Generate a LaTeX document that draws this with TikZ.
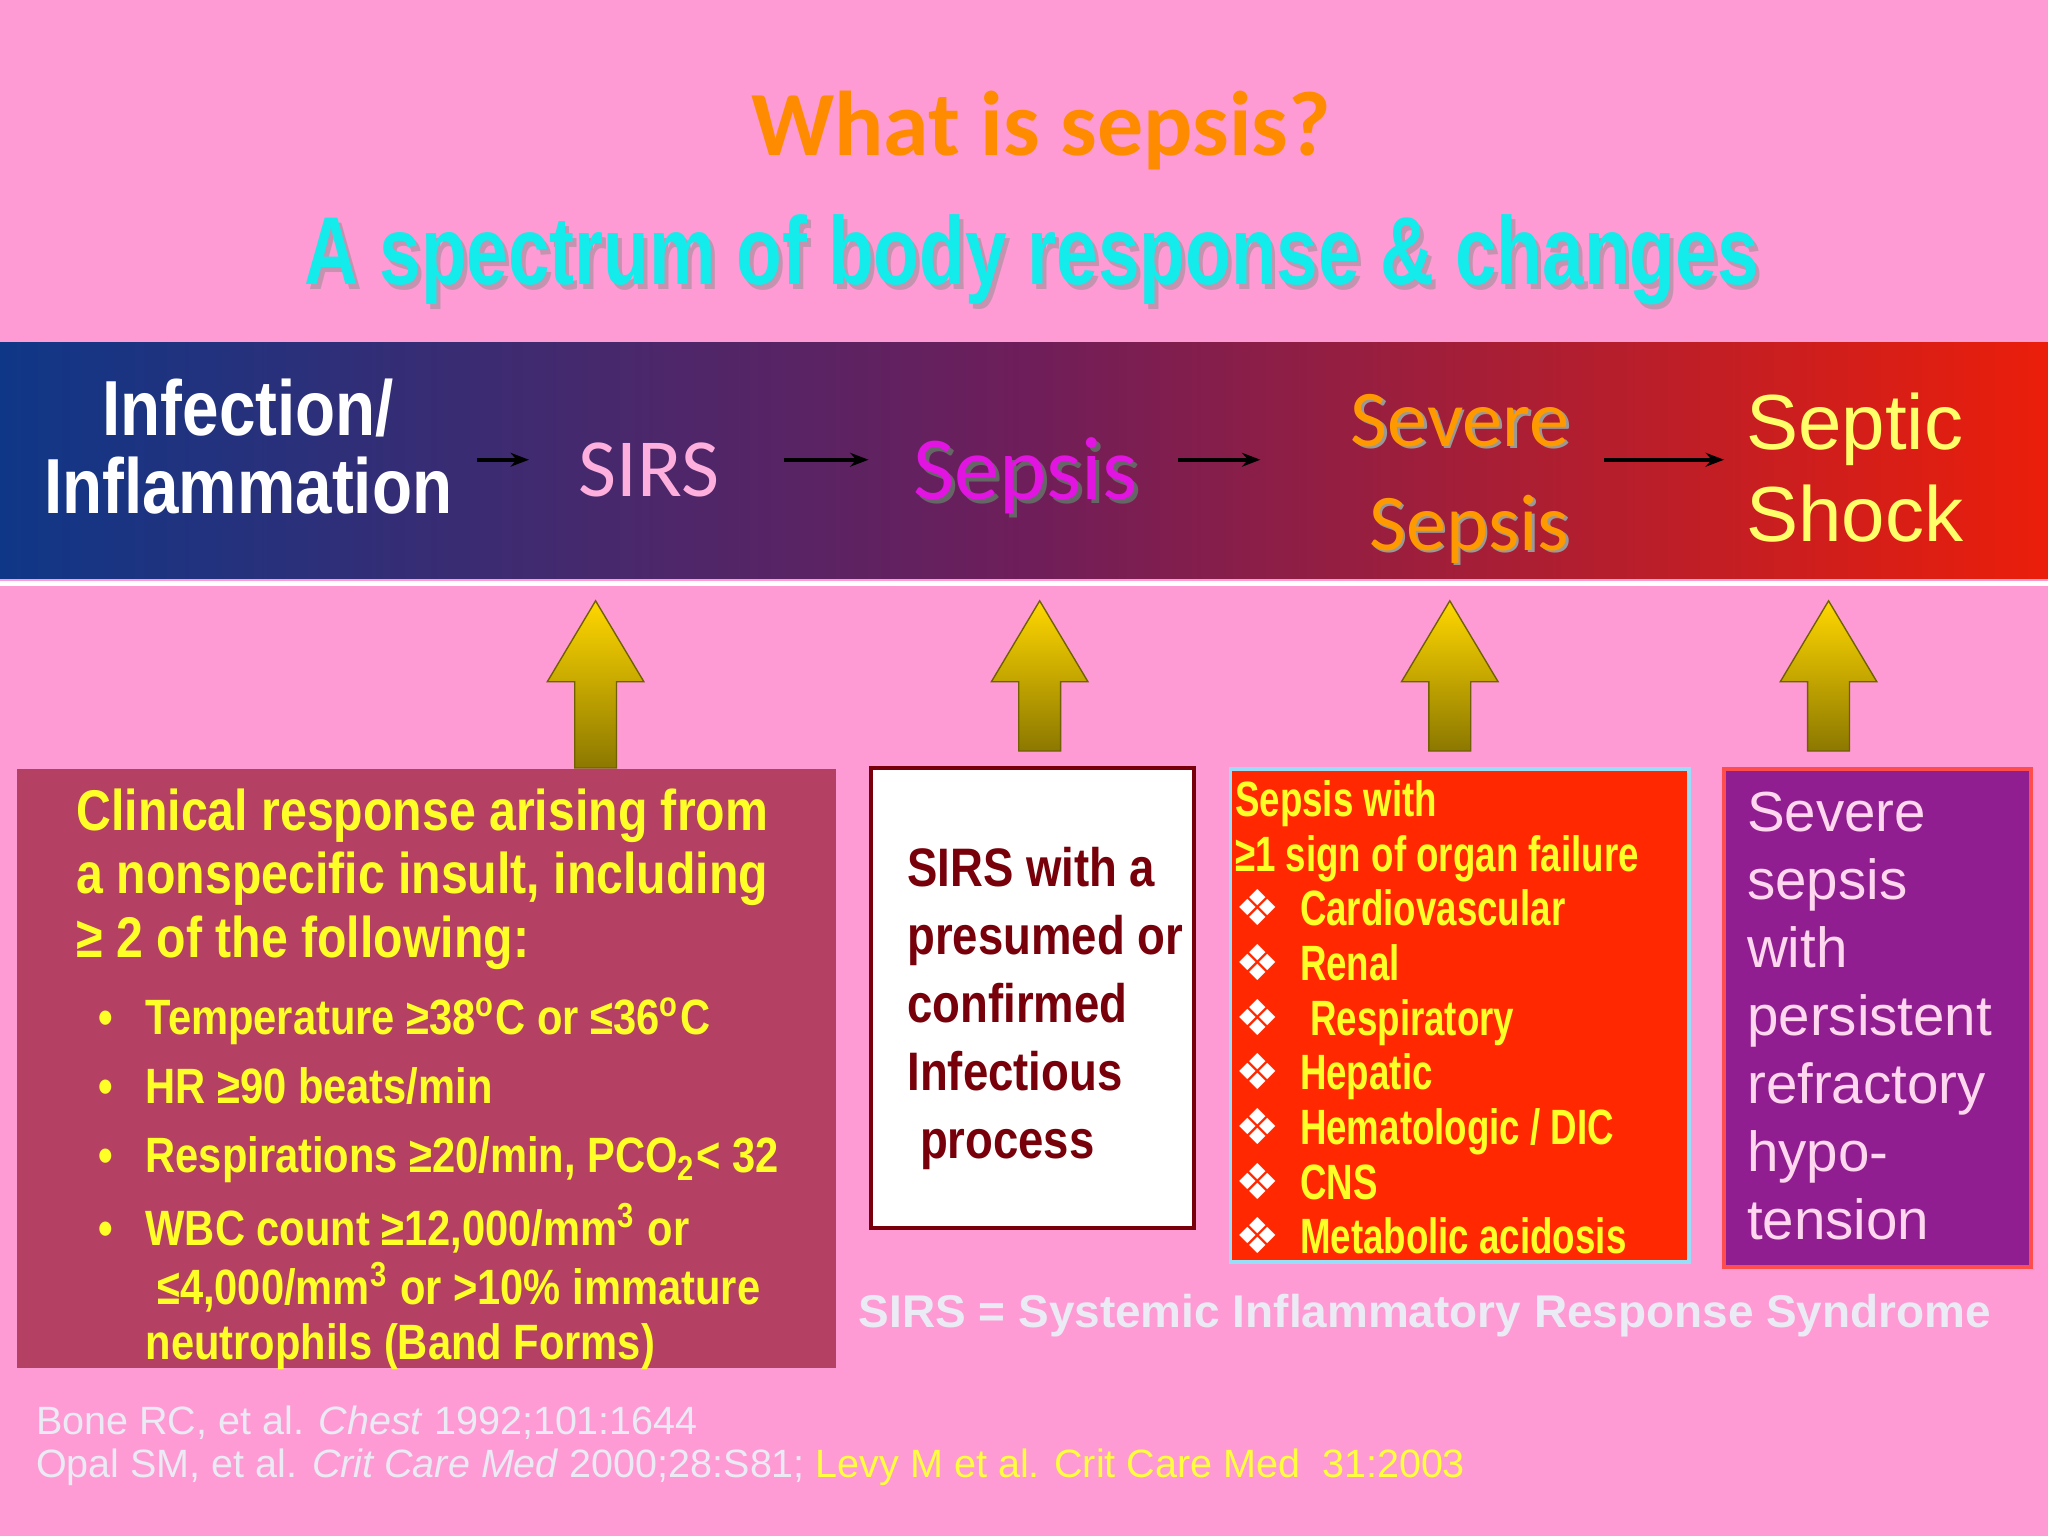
\documentclass[tikz,border=0pt]{standalone}
\usepackage{fontspec}
\setmainfont{Liberation Sans}
\newfontfamily\cond{Liberation Sans}[FakeStretch=0.74]
\newfontfamily\condwide{Liberation Sans}[FakeStretch=0.775]
\newfontfamily\condbox{Liberation Sans}[FakeStretch=0.84]
\newfontfamily\cali{Carlito}
\newfontfamily\dejavu{DejaVu Sans}
\usetikzlibrary{arrows.meta}
\usetikzlibrary{calc}
\definecolor{bgpink}{RGB}{255,155,212}
\definecolor{titleorange}{RGB}{255,140,0}
\definecolor{subcyan}{RGB}{20,235,235}
\definecolor{banddark}{RGB}{15,55,135}
\definecolor{bandmid}{RGB}{110,30,90}
\definecolor{bandred}{RGB}{235,30,10}
\definecolor{boxrose}{RGB}{180,65,100}
\definecolor{boxred}{RGB}{255,40,0}
\definecolor{boxpurple}{RGB}{145,30,145}
\definecolor{txtyellow}{RGB}{255,255,40}
\definecolor{txtdarkred}{RGB}{120,0,10}
\definecolor{sepsismag}{RGB}{225,20,225}
\definecolor{arrowtop}{RGB}{255,215,0}
\definecolor{arrowbot}{RGB}{140,120,0}
\definecolor{footgray}{RGB}{235,235,245}
\newcommand{\dmd}{{\dejavu\color{white}\char"2756}}

\begin{document}
\begin{tikzpicture}[x=0.01cm,y=-0.01cm,
        stage/.style={align=center,inner sep=0pt},
        boxtext/.style={anchor=north west,align=left,inner sep=0pt},
        box/.style={draw,line width=0.8pt},
        uparrow/.style={top color=arrowtop,bottom color=arrowbot,draw=arrowbot!80!black,line width=0.3pt},
        steparrow/.style={-{Stealth[length=4pt]},line width=0.8pt,black}]
    \fill[bgpink] (0,0) rectangle (1568,1176);
    \useasboundingbox (0,0) rectangle (1568,1176);

    % titles
    \node[text=titleorange,font=\cali\bfseries\fontsize{20}{24}\selectfont] (title) at (797,100) {What is sepsis?};
    \node[text=black!45,opacity=0.5,font=\condwide\bfseries\fontsize{21}{25}\selectfont] at (793,203) {A spectrum of body response \& changes};
    \node[text=subcyan,font=\condwide\bfseries\fontsize{21}{25}\selectfont] (subtitle) at (790,199) {A spectrum of body response \& changes};

    % band
    \shade[left color=banddark,right color=bandred,middle color=bandmid] (0,262) rectangle (1568,443);
    \fill[white] (0,445) rectangle (1568,449);

    \node[stage,text=white,font=\condbox\bfseries\fontsize{17}{17}\selectfont] (infection) at (190,342) {Infection/\\Inflammation};
    \node[stage,text=bgpink!80!white,font=\cali\fontsize{18}{22}\selectfont] (sirs) at (497,360) {SIRS};
    \node[stage,text=black!60,font=\cali\fontsize{19.6}{25}\selectfont] at (788,367) {Sepsis};
    \node[stage,text=sepsismag,font=\cali\fontsize{19.6}{25}\selectfont] (sepsis) at (785,364) {Sepsis};
    \node[stage,text=black!40,font=\cali\fontsize{17.5}{20}\selectfont] at (1120,324) {Severe};
    \node[stage,text=orange!80!yellow,font=\cali\fontsize{17.5}{20}\selectfont] (severe) at (1118,322) {Severe};
    \node[stage,text=black!40,font=\cali\fontsize{17.5}{20}\selectfont] at (1127,407) {Sepsis};
    \node[stage,text=orange!80!yellow,font=\cali\fontsize{17.5}{20}\selectfont] (severe2) at (1125,405) {Sepsis};
    \node[stage,text=txtyellow!70!white,font=\fontsize{17}{20}\selectfont] (shock) at (1420,358) {Septic\\Shock};

    \coordinate (a1) at (365,352); \coordinate (b1) at (405,352);
    \coordinate (a2) at (600,352); \coordinate (b2) at (665,352);
    \coordinate (a3) at (902,352); \coordinate (b3) at (965,352);
    \coordinate (a4) at (1228,352); \coordinate (b4) at (1320,352);
    \foreach \i in {1,...,4}
        \draw[steparrow] (a\i) -- (b\i);

    % up arrows
    \foreach \x/\b in {456/588,796/575,1110/575,1400/575}
        \path[uparrow] (\x-16,\b) -- (\x-16,522) -- (\x-37,522) -- (\x,460) -- (\x+37,522) -- (\x+16,522) -- (\x+16,\b) -- cycle;

    % boxes
    \fill[boxrose] (13,589) rectangle (640,1047);
    \node[boxtext,text=txtyellow,font=\condbox\bfseries\fontsize{12.5}{13.9}\selectfont] (clinical) at (58,603)
        {Clinical response arising from\\a nonspecific insult, including\\≥ 2 of the following:};
    \node[boxtext,text=txtyellow,font=\condbox\bfseries\fontsize{10.8}{12}\selectfont] (criteria) at (75,762)
        {\begin{tabular}{@{}l@{\hspace{7pt}}l@{}}
        • & Temperature ≥38\textsuperscript{o}C or ≤36\textsuperscript{o}C\\[3pt]
        • & HR ≥90 beats/min\\[3pt]
        • & Respirations ≥20/min, PCO\textsubscript{2}< 32\\[3pt]
        • & WBC count ≥12,000/mm\textsuperscript{3} or\\
          & \ ≤4,000/mm\textsuperscript{3} or >10\% immature\\
          & neutrophils (Band Forms)
        \end{tabular}};

    \draw[box,draw=txtdarkred,fill=white] (667,588) rectangle (914,940);
    \node[boxtext,text=txtdarkred,font=\condbox\bfseries\fontsize{11.8}{14.8}\selectfont] (presumed) at (694,648)
        {SIRS with a\\presumed or\\confirmed\\Infectious\\\ process};

    \draw[box,draw=cyan!40,fill=boxred] (942,589) rectangle (1293,966);
    \node[boxtext,text=txtyellow,font=\cond\bfseries\fontsize{10.8}{11.9}\selectfont] (organ) at (945,597)
        {Sepsis with\\≥1 sign of organ failure\\
        \dmd\ \ Cardiovascular\\\dmd\ \ Renal\\
        \dmd\ \ \ Respiratory\\\dmd\ \ Hepatic\\
        \dmd\ \ Hematologic / DIC\\\dmd\ \ CNS\\
        \dmd\ \ Metabolic acidosis};

    \draw[box,draw=red!70,fill=boxpurple] (1320,589) rectangle (1555,970);
    \node[boxtext,text=bgpink!40!white,font=\fontsize{12.3}{14.8}\selectfont] (refractory) at (1337,606)
        {Severe\\sepsis\\with\\persistent\\refractory\\hypo-\\tension};

    \node[text=footgray,font=\bfseries\fontsize{10}{12}\selectfont] (sirsdef) at (1091,1007) {SIRS = Systemic Inflammatory Response Syndrome};

    % references
    \node[boxtext,text=footgray,font=\fontsize{8.6}{9.2}\selectfont] (refs) at (27,1076)
        {Bone RC, et al. \textit{Chest} 1992;101:1644\\
        Opal SM, et al. \textit{Crit Care Med} 2000;28:S81; {\color{txtyellow!90!white}Levy M et al. Crit Care Med\ \ 31:2003}};
\end{tikzpicture}
\end{document}
